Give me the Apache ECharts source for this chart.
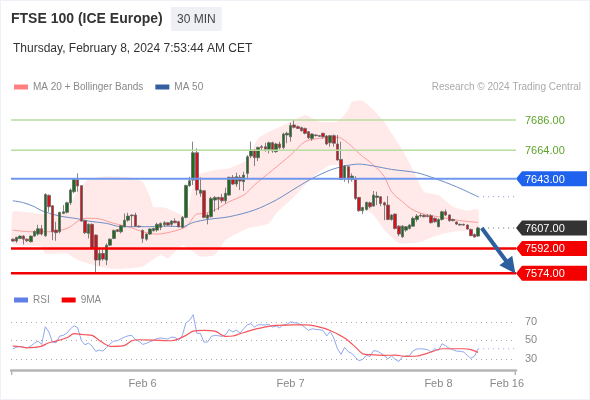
<!DOCTYPE html>
<html>
  <head>
    <meta charset="utf-8" />
    <title>FTSE 100 (ICE Europe)</title>
    <script src="https://cdnjs.cloudflare.com/ajax/libs/echarts/6.0.0/echarts.min.js"></script>
    <style>
      html, body { margin: 0; padding: 0; background: #fff; }
      #main { width: 590px; height: 400px; }
      #frame { position: absolute; left: 0; top: 0; width: 588px; height: 398px; border: 1px solid #eef1f5; pointer-events: none; }
    </style>
  </head>
  <body>
    <div id="main"></div>
    <div id="frame"></div>
    <script type="text/javascript">
      var SLOTS = 140;
      var tickLabels = { 36: 'Feb 6', 77: 'Feb 7', 118: 'Feb 8', 137: 'Feb 16' };

      // open, close, low, high
      var candles = [
        [7598.9,7597.5,7597.0,7599.4],[7597.5,7600.2,7596.2,7600.6],[7599.4,7601.1,7598.9,7601.6],[7601.1,7598.9,7595.0,7601.9],
        [7598.9,7597.7,7596.7,7599.4],[7597.0,7601.1,7596.5,7601.6],[7601.1,7604.5,7600.6,7605.5],[7602.6,7606.5,7601.4,7609.4],
        [7606.5,7602.6,7601.6,7609.2],[7601.4,7631.6,7600.6,7632.4],[7630.9,7622.6,7618.9,7631.6],[7623.3,7604.3,7598.2,7623.8],
        [7605.5,7603.6,7597.7,7611.6],[7604.3,7618.5,7603.1,7618.9],[7617.7,7618.9,7617.2,7623.8],[7618.5,7625.5,7617.7,7626.3],
        [7625.5,7634.8,7623.8,7636.0],[7633.6,7642.6,7632.4,7643.3],[7642.6,7637.7,7633.6,7647.0],[7638.0,7612.1,7611.6,7638.5],
        [7612.4,7603.6,7602.6,7612.8],[7603.1,7609.7,7599.4,7610.4],[7609.7,7592.1,7591.4,7610.4],[7601.9,7583.6,7574.3,7602.3],
        [7583.6,7588.4,7579.4,7592.1],[7588.4,7584.3,7583.1,7591.4],[7583.6,7594.5,7579.9,7595.8],[7594.5,7598.9,7593.8,7599.4],
        [7599.4,7605.3,7598.9,7605.8],[7605.8,7604.5,7604.0,7606.3],[7604.3,7608.7,7603.1,7609.2],[7608.0,7612.8,7607.5,7617.7],
        [7612.8,7615.8,7611.6,7618.2],[7616.5,7616.0,7608.0,7617.0],[7616.5,7608.4,7608.0,7618.2],[7608.4,7608.0,7607.5,7608.9],
        [7605.3,7599.4,7596.2,7606.0],[7598.9,7602.6,7597.7,7603.1],[7602.6,7606.3,7601.9,7606.7],[7605.0,7606.7,7604.5,7607.2],
        [7605.5,7609.7,7604.3,7610.9],[7607.5,7610.4,7605.5,7611.1],[7609.4,7610.9,7608.0,7612.1],[7610.9,7609.2,7608.7,7611.4],
        [7609.7,7612.1,7608.0,7612.8],[7612.1,7610.9,7610.4,7614.1],[7611.6,7608.0,7607.5,7612.4],[7607.5,7614.8,7606.7,7615.8],
        [7614.8,7638.2,7614.1,7638.7],[7638.0,7641.6,7637.2,7644.6],[7642.1,7662.1,7638.5,7670.2],[7662.1,7634.8,7631.1,7665.3],
        [7632.4,7634.8,7629.9,7644.1],[7634.3,7614.8,7614.1,7634.8],[7614.1,7616.5,7609.7,7617.7],[7615.3,7628.7,7614.8,7629.9],
        [7627.5,7629.4,7618.9,7630.4],[7629.4,7628.0,7620.2,7629.9],[7629.4,7627.0,7625.5,7631.9],[7627.0,7632.4,7625.0,7636.5],
        [7631.1,7644.1,7630.7,7644.6],[7644.1,7639.2,7638.5,7645.8],[7639.2,7644.6,7637.2,7647.5],[7644.1,7641.4,7634.8,7645.8],
        [7640.9,7645.8,7634.1,7648.2],[7647.0,7659.2,7643.3,7660.4],[7659.7,7664.1,7658.0,7670.2],[7664.1,7658.5,7652.4,7664.6],
        [7658.5,7666.0,7656.0,7666.5],[7666.5,7666.0,7664.1,7667.7],[7666.5,7664.6,7662.9,7669.4],[7664.6,7669.4,7661.6,7670.2],
        [7669.4,7663.4,7662.1,7670.2],[7662.9,7668.5,7662.1,7669.4],[7668.5,7665.8,7664.6,7670.2],[7666.0,7675.8,7664.6,7676.8],
        [7675.1,7676.3,7669.0,7677.5],[7673.8,7682.1,7670.2,7684.1],[7682.4,7680.7,7679.9,7686.0],[7681.2,7679.9,7679.4,7682.1],
        [7680.4,7678.2,7677.5,7681.2],[7679.9,7676.3,7675.5,7680.4],[7677.5,7673.1,7672.1,7678.0],[7672.6,7675.8,7670.9,7676.3],
        [7675.1,7674.6,7674.1,7675.6],[7674.6,7674.1,7673.6,7675.1],[7676.3,7673.8,7672.6,7676.8],[7674.3,7668.5,7667.7,7675.1],
        [7669.4,7674.6,7666.5,7675.1],[7674.6,7669.0,7666.5,7675.5],[7668.5,7656.8,7656.3,7675.1],[7657.2,7642.6,7642.1,7670.2],
        [7643.1,7652.4,7640.9,7653.1],[7651.9,7642.6,7639.7,7652.4],[7642.6,7645.0,7640.9,7647.0],[7642.6,7628.7,7627.5,7645.0],
        [7629.4,7619.7,7618.9,7629.9],[7619.7,7622.1,7617.2,7622.6],[7620.6,7625.8,7619.7,7626.3],[7625.5,7622.6,7621.4,7626.3],
        [7623.1,7631.1,7622.6,7634.1],[7629.4,7630.4,7623.8,7633.6],[7629.9,7625.0,7623.1,7630.4],[7625.5,7623.8,7612.8,7626.3],
        [7623.8,7613.3,7612.8,7630.4],[7613.3,7616.5,7612.4,7617.2],[7617.2,7606.7,7606.0,7617.7],[7608.4,7602.6,7601.1,7609.2],
        [7600.6,7608.4,7599.9,7609.2],[7605.5,7608.0,7604.3,7608.4],[7606.7,7609.2,7606.0,7609.7],[7608.4,7614.1,7608.0,7615.3],
        [7613.3,7615.8,7611.6,7617.2],[7615.8,7616.3,7614.8,7617.7],[7616.3,7615.3,7614.8,7617.0],[7616.0,7615.5,7614.8,7617.2],
        [7616.0,7610.9,7610.4,7617.2],[7614.1,7611.6,7610.9,7614.8],[7608.0,7613.3,7607.5,7614.1],[7613.3,7618.9,7612.4,7619.7],
        [7618.9,7616.5,7615.8,7620.6],[7616.5,7612.4,7611.6,7617.2],[7613.3,7612.4,7611.9,7613.8],[7611.4,7609.9,7609.2,7611.9],
        [7609.7,7609.2,7608.7,7610.2],[7609.7,7609.2,7608.7,7610.2],[7609.2,7606.3,7605.8,7609.7],[7606.0,7601.4,7601.1,7606.7],
        [7602.3,7600.4,7600.1,7603.1],[7601.1,7607.0,7600.6,7608.0]
      ];

      // [candle index, price]
      var bandUpper = [[0,7618.9],[4,7618.5],[8,7617.2],[12,7617.7],[15,7618.9],[18,7634.8],[21,7642.6],[25,7644.6],[32,7644.1],[36,7640.9],[38,7629.9],[39,7622.6],[42,7622.1],[46,7617.7],[48,7615.3],[49,7625.0],[50,7639.7],[51,7645.8],[56,7649.4],[60,7650.7],[65,7656.8],[68,7672.6],[72,7678.7],[77,7684.8],[81,7689.7],[85,7684.8],[90,7684.8],[93,7693.4],[94,7699.5],[97,7700.2],[100,7693.4],[103,7684.8],[105,7676.3],[108,7664.1],[111,7649.4],[114,7633.6],[118,7631.1],[122,7622.6],[126,7619.7],[129,7620.6]];
      var bandLower = [[0,7595.3],[8,7593.3],[9,7588.4],[15,7588.4],[18,7583.6],[24,7578.7],[29,7577.0],[36,7578.7],[38,7582.3],[41,7587.2],[43,7584.8],[47,7594.5],[50,7589.7],[52,7586.0],[56,7587.2],[59,7598.2],[65,7606.7],[71,7610.4],[73,7617.7],[78,7629.9],[81,7638.5],[83,7643.3],[85,7648.2],[88,7653.1],[91,7653.1],[93,7647.0],[95,7634.8],[97,7622.6],[100,7616.5],[103,7605.5],[107,7595.8],[110,7595.8],[113,7597.0],[118,7601.9],[122,7604.3],[129,7606.7]];
      var ma20 = [[0,7605.5],[5,7604.3],[10,7604.3],[15,7606.7],[20,7614.1],[23,7614.1],[28,7610.4],[32,7608.0],[36,7604.3],[40,7602.6],[44,7604.3],[48,7608.0],[51,7617.2],[53,7617.7],[56,7620.2],[60,7626.3],[64,7631.1],[67,7638.5],[72,7649.4],[77,7660.4],[81,7670.2],[85,7672.6],[90,7673.4],[93,7669.0],[96,7661.6],[100,7653.1],[103,7644.6],[105,7633.6],[108,7626.3],[111,7620.2],[115,7616.5],[118,7615.3],[123,7612.8],[129,7611.1]];
      var ma50 = [[0,7627.0],[3,7625.5],[6,7622.6],[8,7619.7],[13,7615.8],[18,7613.8],[21,7612.1],[26,7610.4],[30,7608.0],[33,7608.0],[38,7608.0],[43,7608.4],[47,7608.0],[50,7611.1],[54,7613.3],[60,7615.3],[67,7620.2],[73,7627.5],[79,7637.2],[83,7643.3],[88,7649.4],[92,7652.4],[96,7653.8],[100,7652.4],[105,7649.9],[112,7647.5],[117,7643.3],[123,7637.2],[129,7629.9]];

      var levels = [7686, 7664, 7643, 7607, 7592, 7574];
      var levelColors = ['#b9dca0', '#b9dca0', '#6f97ee', null, '#f40000', '#f40000'];
      var levelWidths = [1.5, 1.5, 2, 0, 2.5, 2.5];
      var tagColors = [null, null, '#1f62ee', '#333333', '#f40000', '#f40000'];

      var rsi = [
        41.0,42.5,43.6,42.5,41.8,43.9,47.1,49.3,45.7,64.7,
        59.0,48.2,47.5,54.7,55.4,57.9,62.5,65.8,63.6,50.0,
        45.3,47.1,43.9,38.2,39.6,38.5,42.5,46.4,49.3,49.6,
        51.8,53.6,55.0,55.4,50.7,48.9,45.7,46.8,48.6,50.0,
        52.1,52.5,52.1,51.4,53.6,53.2,50.0,55.4,69.0,71.5,
        77.6,57.9,57.5,48.2,48.2,54.3,55.4,55.0,54.3,56.1,
        61.8,59.0,61.1,57.9,62.5,66.8,67.9,64.3,66.8,66.8,
        66.5,67.2,64.3,65.4,63.6,66.8,67.2,70.0,69.0,68.6,
        66.8,64.0,60.7,62.5,61.8,61.5,60.7,54.7,59.7,52.5,
        41.0,35.0,42.5,37.8,36.0,31.7,28.2,29.6,33.9,32.8,
        38.9,38.5,36.4,33.5,30.3,33.2,29.6,27.4,32.5,33.2,
        33.5,38.9,40.7,41.0,40.7,40.0,37.5,41.0,39.3,46.4,
        44.3,41.4,40.0,38.5,38.2,37.5,33.9,30.7,33.2,41.0
      ];
      var rsiMa = [[0,43.9],[2,43.2],[4,42.1],[6,42.5],[8,43.9],[10,47.5],[12,49.3],[15,52.9],[17,57.2],[20,56.1],[22,55.4],[24,50.0],[27,43.6],[28,43.6],[31,44.6],[33,49.6],[35,50.7],[39,50.4],[44,49.6],[46,51.8],[48,55.4],[50,60.0],[53,60.7],[56,60.0],[59,54.3],[61,54.7],[63,57.2],[67,61.8],[71,65.0],[73,66.1],[78,66.8],[81,66.8],[84,65.4],[88,60.7],[92,52.5],[95,42.8],[97,35.7],[99,34.6],[103,33.9],[106,34.2],[109,32.8],[112,33.2],[116,37.5],[119,41.0],[125,41.0],[127,40.0],[129,37.1]];

      // the triangle head sits centred on arrowTo, so its tip lands on 7574
      var arrowFrom = [130, 7607];
      var arrowTo = [137.5, 7578.5];

      var LAST = candles.length - 1;
      var FUTURE = SLOTS - 1;
      var categories = [];
      for (var i = 0; i < SLOTS; i++) categories.push(tickLabels[i] || '');

      function renderBand(params, api) {
        var pts = bandUpper.concat(bandLower.slice().reverse()).map(function (p) {
          return api.coord(p);
        });
        return {
          type: 'polygon',
          shape: { points: pts, smooth: 0.15 },
          style: { fill: '#ffe9e9' },
          silent: true
        };
      }

      function renderLevel(params, api) {
        var n = params.dataIndex;
        var y = api.coord([0, levels[n]])[1];
        var cs = params.coordSys;
        var x0 = cs.x, x1 = cs.x + cs.width;
        var kids = [];
        if (levelColors[n]) {
          kids.push({
            type: 'line',
            shape: { x1: x0, y1: y, x2: x1, y2: y },
            style: { stroke: levelColors[n], lineWidth: levelWidths[n] }
          });
        }
        if (tagColors[n]) {
          kids.push({
            type: 'polygon',
            shape: { points: [[x1, y], [x1 + 6, y - 7.5], [x1 + 71, y - 7.5], [x1 + 71, y + 7.5], [x1 + 6, y + 7.5]] },
            style: { fill: tagColors[n] }
          });
        }
        kids.push({
          type: 'text',
          style: {
            x: x1 + 9, y: y + 0.8, text: levels[n].toFixed(2),
            fill: tagColors[n] ? '#fff' : '#5ea32a',
            font: '11px "Liberation Sans"',
            align: 'left', verticalAlign: 'middle'
          }
        });
        return { type: 'group', children: kids };
      }

      // little end ticks under the RSI axis
      function renderAxisEnds(params, api) {
        var cs = params.coordSys;
        var y = cs.y + cs.height - 7.6;
        var stroke = { stroke: '#b5b5b5', lineWidth: 1.5 };
        return {
          type: 'group',
          children: [
            { type: 'line', shape: { x1: cs.x + 0.7, y1: y, x2: cs.x + 0.7, y2: y + 5 }, style: stroke },
            { type: 'line', shape: { x1: cs.x + cs.width - 0.7, y1: y, x2: cs.x + cs.width - 0.7, y2: y + 5 }, style: stroke }
          ]
        };
      }

      var chart = echarts.init(document.getElementById('main'), null, { renderer: 'canvas' });
      var fontName = '"Liberation Sans", Arial, sans-serif';

      chart.setOption({
        animation: false,
        backgroundColor: '#fff',
        textStyle: { fontFamily: fontName },
        title: [
          { text: 'FTSE 100 (ICE Europe)', left: 11, top: 12, padding: 0, textStyle: { fontFamily: fontName, fontSize: 14, fontWeight: 'bold', color: '#333' } },
          { text: '30 MIN', left: 171, top: 7, padding: [7, 6, 5, 6], backgroundColor: '#eef0f3', textStyle: { fontFamily: fontName, fontSize: 12, fontWeight: 'normal', color: '#444' } },
          { text: 'Thursday, February 8, 2024 7:53:44 AM CET', left: 13, top: 43, padding: 0, textStyle: { fontFamily: fontName, fontSize: 12, fontWeight: 'normal', color: '#333' } },
          { text: 'Research \u00a9 2024 Trading Central', right: 9, top: 82, padding: 0, textStyle: { fontFamily: fontName, fontSize: 10, fontWeight: 'normal', color: '#aaa' } }
        ],
        legend: [
          {
            left: 14, top: 82, padding: 0, itemWidth: 14, itemHeight: 5, itemGap: 12, icon: 'rect',
            textStyle: { color: '#888', fontSize: 10 },
            data: [
              { name: 'MA 20 + Bollinger Bands', itemStyle: { color: '#ff8080' } },
              { name: 'MA 50', itemStyle: { color: '#3460a0' } }
            ]
          },
          {
            left: 14, top: 295, padding: 0, itemWidth: 14, itemHeight: 5, itemGap: 12, icon: 'rect',
            textStyle: { color: '#888', fontSize: 10 },
            data: [
              { name: 'RSI', itemStyle: { color: '#5f7fe6' } },
              { name: '9MA', itemStyle: { color: '#f40000' } }
            ]
          }
        ],
        grid: [
          { left: 11, right: 74, top: 90, height: 190 },
          { left: 11, right: 74, top: 303.2, height: 74.4 }
        ],
        xAxis: [
          { type: 'category', gridIndex: 0, data: categories, show: false },
          {
            type: 'category', gridIndex: 1, data: categories, offset: -7.6,
            axisLine: { lineStyle: { color: '#b5b5b5', width: 2.5 } },
            axisTick: { show: false },
            axisLabel: { interval: 0, color: '#888', fontSize: 11, margin: 8, hideOverlap: false }
          }
        ],
        yAxis: [
          { type: 'value', gridIndex: 0, min: 7569, max: 7708, show: false, splitLine: { show: false } },
          {
            type: 'value', gridIndex: 1, min: 10, max: 90, interval: 20, position: 'right',
            axisLine: { show: false }, axisTick: { show: false },
            axisLabel: { color: '#888', fontSize: 11, margin: 9, showMinLabel: false, showMaxLabel: false },
            splitLine: { show: true, showMinLine: false, showMaxLine: false, lineStyle: { color: '#aaa', type: [1, 4], width: 1 } }
          }
        ],
        series: [
          {
            type: 'custom', xAxisIndex: 0, yAxisIndex: 0, z: 1, silent: true, clip: false,
            data: [[0, bandUpper[0][1]]], renderItem: renderBand
          },
          {
            name: 'MA 20 + Bollinger Bands', type: 'line', xAxisIndex: 0, yAxisIndex: 0, z: 2,
            data: ma20, smooth: 0.3, showSymbol: false, lineStyle: { color: '#fb9c9c', width: 1 }
          },
          {
            name: 'MA 50', type: 'line', xAxisIndex: 0, yAxisIndex: 0, z: 2,
            data: ma50, smooth: 0.3, showSymbol: false, lineStyle: { color: '#6c8dc4', width: 1 }
          },
          {
            type: 'line', xAxisIndex: 0, yAxisIndex: 0, z: 2, showSymbol: false,
            data: [[LAST, ma50[ma50.length - 1][1]], [FUTURE, ma50[ma50.length - 1][1]]],
            lineStyle: { color: '#7a93c9', width: 1, type: [1, 4] }
          },
          {
            type: 'line', xAxisIndex: 0, yAxisIndex: 0, z: 2, showSymbol: false,
            data: [[LAST, candles[LAST][1]], [FUTURE, candles[LAST][1]]],
            lineStyle: { color: '#666', width: 1, type: [1, 4] }
          },
          {
            type: 'candlestick', xAxisIndex: 0, yAxisIndex: 0, z: 3, barWidth: 3,
            data: candles,
            itemStyle: {
              color: '#1c6e1c', color0: '#d3121c',
              borderColor: '#666', borderColor0: '#666', borderWidth: 0.8
            }
          },
          {
            type: 'custom', xAxisIndex: 0, yAxisIndex: 0, z: 4, silent: true, clip: false,
            data: levels.map(function (v) { return [0, v]; }), renderItem: renderLevel
          },
          {
            type: 'line', xAxisIndex: 0, yAxisIndex: 0, z: 5, data: [], silent: true,
            markLine: {
              silent: true, animation: false, symbol: ['none', 'triangle'], symbolSize: 16,
              label: { show: false },
              lineStyle: { color: '#2d5f9e', width: 4, type: 'solid' },
              data: [[{ coord: arrowFrom }, { coord: arrowTo }]]
            }
          },
          {
            name: 'RSI', type: 'line', xAxisIndex: 1, yAxisIndex: 1, z: 2,
            data: rsi, showSymbol: false, lineStyle: { color: '#8fa9ee', width: 1 }
          },
          {
            type: 'line', xAxisIndex: 1, yAxisIndex: 1, z: 2, showSymbol: false,
            data: [[LAST, rsi[LAST]], [FUTURE, rsi[LAST]]],
            lineStyle: { color: '#8fa9ee', width: 1, type: [1, 4] }
          },
          {
            name: '9MA', type: 'line', xAxisIndex: 1, yAxisIndex: 1, z: 3,
            data: rsiMa, smooth: 0.3, showSymbol: false, lineStyle: { color: '#f6555b', width: 1.2 }
          },
          {
            type: 'custom', xAxisIndex: 1, yAxisIndex: 1, z: 3, silent: true, clip: false,
            data: [[0, 50]], renderItem: renderAxisEnds
          }
        ]
      });
    </script>
  </body>
</html>
